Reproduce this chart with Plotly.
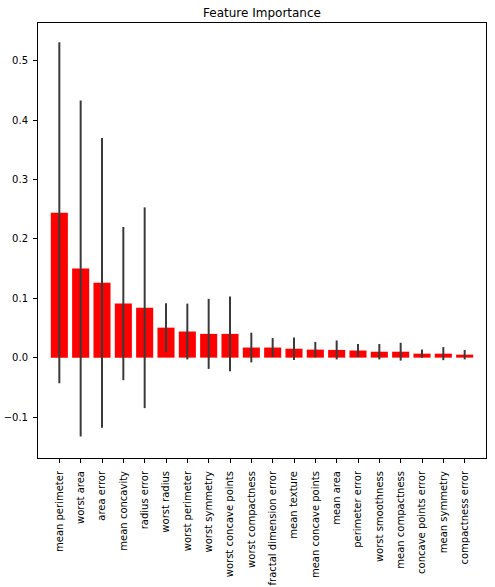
import plotly.graph_objects as go

features = ["mean perimeter", "worst area", "area error", "mean concavity", "radius error",
            "worst radius", "worst perimeter", "worst symmetry", "worst concave points",
            "worst compactness", "fractal dimension error", "mean texture", "mean concave points",
            "mean area", "perimeter error", "worst smoothness", "mean compactness",
            "concave points error", "mean symmetry", "compactness error"]
importances = [0.244, 0.150, 0.126, 0.091, 0.084, 0.0505, 0.044, 0.040, 0.040, 0.017,
               0.017, 0.015, 0.0135, 0.013, 0.012, 0.010, 0.010, 0.0067, 0.0067, 0.005]
stds = [0.287, 0.283, 0.244, 0.129, 0.169, 0.041, 0.047, 0.059, 0.063, 0.025,
        0.016, 0.019, 0.013, 0.016, 0.011, 0.013, 0.015, 0.007, 0.011, 0.008]
y_ticks = [-0.1, 0.0, 0.1, 0.2, 0.3, 0.4, 0.5]

idx = list(range(len(features)))

fig = go.Figure()
fig.add_trace(go.Bar(
    x=idx, y=importances, width=0.8,
    marker=dict(color="red", line=dict(width=0)),
    error_y=dict(type="data", array=stds, visible=True, width=0, thickness=2, color="#3a3a3a"),
))

axis_common = dict(showline=True, mirror=True, linecolor="black", linewidth=1,
                   ticks="outside", ticklen=4, tickcolor="black", showgrid=False,
                   zeroline=False, automargin=False,
                   tickfont=dict(family="DejaVu Sans", size=10, color="black"))

fig.update_layout(
    width=495, height=587,
    margin=dict(l=38, r=9, t=23, b=129, autoexpand=False),
    plot_bgcolor="white", paper_bgcolor="white",
    showlegend=False,
    title=dict(text="Feature Importance", x=0.5, xanchor="center", xref="paper",
               y=1 - 13 / 587, yanchor="middle", yref="container",
               font=dict(family="DejaVu Sans", size=12, color="black")),
    xaxis=dict(range=[-1, 20], tickmode="array", tickvals=idx, ticktext=features,
               tickangle=-90, ticklabelstandoff=4, **axis_common),
    yaxis=dict(range=[-0.169, 0.5635], tickmode="array", tickvals=y_ticks,
               ticktext=["\u22120.1", "0.0", "0.1", "0.2", "0.3", "0.4", "0.5"],
               ticklabelstandoff=3, **axis_common),
)

fig.write_html("out.html", config={"displayModeBar": False},
               post_script="document.body.style.margin='0';document.body.style.overflow='hidden';")
